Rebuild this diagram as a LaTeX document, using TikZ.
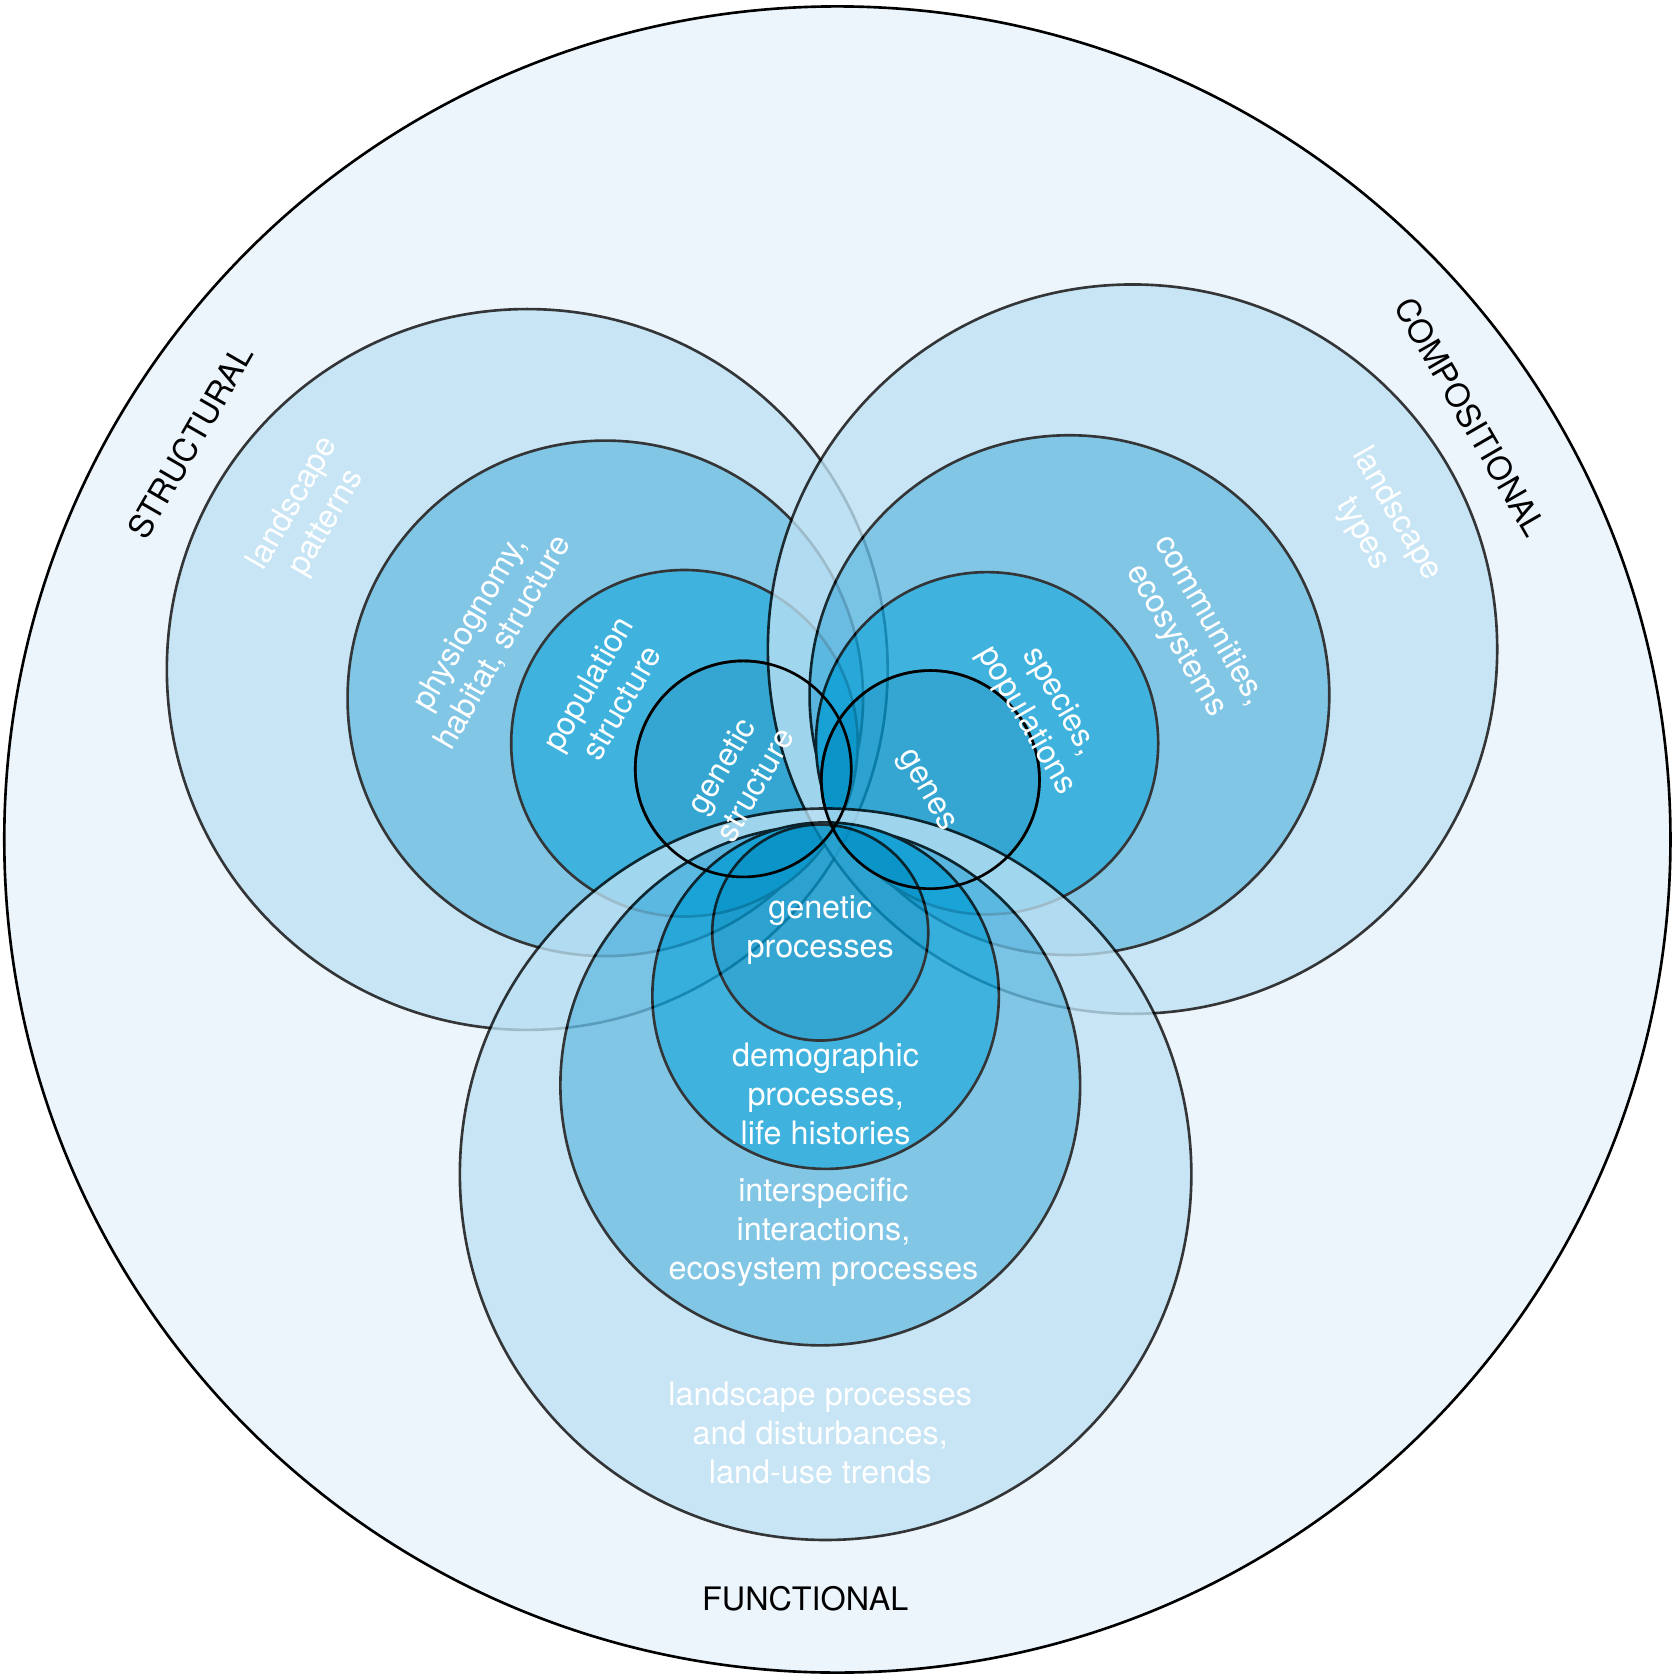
\documentclass[tikz,border=0pt]{standalone}
\usepackage{fontspec}
\setmainfont{TeX Gyre Heros}
\definecolor{cOut}{HTML}{EDF5FC}
\definecolor{cL}{HTML}{BDE1F4}
\definecolor{cM}{HTML}{64BAE1}
\definecolor{cS}{HTML}{0FA0D6}
\definecolor{cI}{HTML}{0090C6}
\begin{document}
\begin{tikzpicture}[x=0.01cm,y=-0.01cm,
  lbl/.style={text=white,align=center,font=\fontsize{8.6}{10.3}\selectfont},
  captxt/.style={text=black,align=center,font=\fontsize{8.6}{10.3}\selectfont},
  bd/.style={draw=black,line width=0.7pt},
  grp/.style={transparency group,opacity=0.78}]
\useasboundingbox (0,0) rectangle (1567,1570);
\fill[cOut] (783,785) circle (779);
\draw[bd] (783,785) circle (779);
\begin{scope}[grp]
  \filldraw[bd,fill=cL] (493,626) circle (337);
  \filldraw[bd,fill=cM] (566,653) circle (241);
  \filldraw[bd,fill=cS] (640,695) circle (162);
  \filldraw[bd,fill=cI] (695,719) circle (101);
\end{scope}
\begin{scope}[grp]
  \filldraw[bd,fill=cL] (1059,607) circle (341);
  \filldraw[bd,fill=cM] (1000,650) circle (243);
  \filldraw[bd,fill=cS] (923,695) circle (160);
  \filldraw[bd,fill=cI] (870,729) circle (102);
\end{scope}
\begin{scope}[grp]
  \filldraw[bd,fill=cL] (772,1098) circle (342);
  \filldraw[bd,fill=cM] (767,1015) circle (243);
  \filldraw[bd,fill=cS] (772,931) circle (162);
  \filldraw[bd,fill=cI] (767,872) circle (101);
\end{scope}
\draw[bd] (695,719) circle (101);
\draw[bd] (870,729) circle (102);
\node[captxt,rotate=60] (st) at (178,413) {STRUCTURAL};
\node[captxt,rotate=-60] (co) at (1375,390) {COMPOSITIONAL};
\node[captxt] (fu) at (753,1495) {FUNCTIONAL};
\node[lbl,rotate=60] (s1) at (290,480) {landscape\\patterns};
\node[lbl,rotate=60] (s2) at (455,592) {physiognomy,\\habitat, structure};
\node[lbl,rotate=60] (s3) at (565,648) {population\\structure};
\node[lbl,rotate=60] (s4) at (690,725) {genetic\\structure};
\node[lbl,rotate=-60] (c1) at (1290,490) {landscape\\types};
\node[lbl,rotate=-60] (c2) at (1115,590) {communities,\\ecosystems};
\node[lbl,rotate=-60] (c3) at (975,665) {species,\\populations};
\node[lbl,rotate=-60] (c4) at (865,740) {genes};
\node[lbl] (f1) at (767,870) {genetic\\processes};
\node[lbl] (f2) at (772,1023) {demographic\\processes,\\life histories};
\node[lbl] (f3) at (770,1152) {interspecific\\interactions,\\ecosystem processes};
\node[lbl] (f4) at (767,1340) {landscape processes\\and disturbances,\\land-use trends};
\end{tikzpicture}
\end{document}
